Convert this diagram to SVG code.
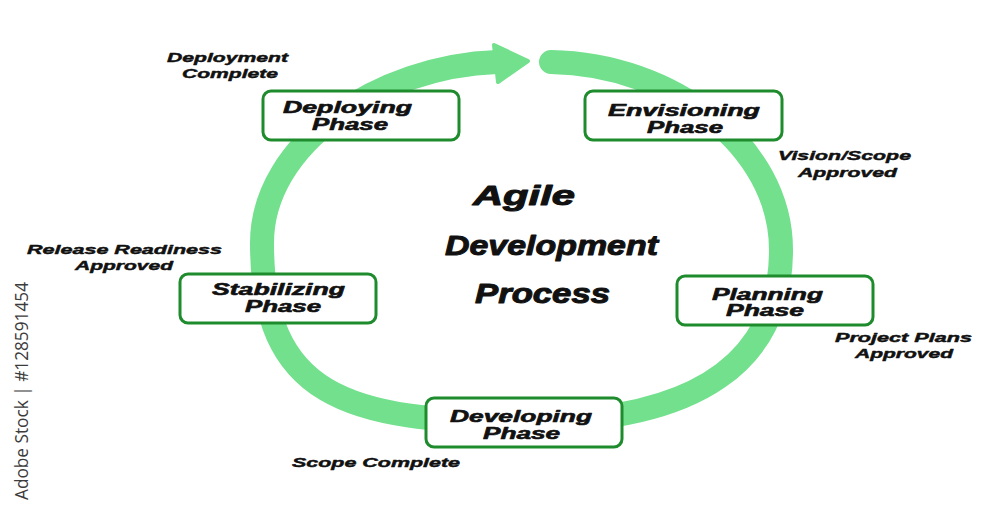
<svg xmlns="http://www.w3.org/2000/svg" width="1000" height="516" viewBox="0 0 1000 516">
  <style>
    .ring { fill: none; stroke: #72E08C; stroke-width: 24; stroke-linecap: round; }
    .head { fill: #72E08C; stroke: #72E08C; stroke-width: 4; stroke-linejoin: round; }
    .box { fill: #ffffff; stroke: #1E8B2D; stroke-width: 3; }
    .t { font-family: "Liberation Sans", Arial, sans-serif; font-weight: bold; font-style: italic; fill: #111111; stroke: #111111; stroke-width: 0.6; stroke-linejoin: round; }
    .node { font-size: 16px; }
    .lbl { font-size: 13px; stroke-width: 0.45; }
    .title { font-size: 28px; stroke-width: 1; }
    .wm { font-family: "Open Sans", "Noto Sans", sans-serif; font-size: 18px; fill: #3c3c3c; }
  </style>
  <rect x="0" y="0" width="1000" height="516" fill="#ffffff"/>

  <g id="connectors">
    <path class="ring" d="M 551 62 C 672 64, 781 146, 781 250 C 781 360, 700 422, 525 422 C 345 422, 262 395, 262 243 C 262 143, 380 66, 497 62"/>
    <polygon class="head" points="494,45 528,61 498,82"/>
  </g>

  <g id="title">
    <text class="t title" x="473" y="205" textLength="102" lengthAdjust="spacingAndGlyphs">Agile</text>
    <text class="t title" x="445" y="255" textLength="213" lengthAdjust="spacingAndGlyphs">Development</text>
    <text class="t title" x="475" y="303" textLength="135" lengthAdjust="spacingAndGlyphs">Process</text>
  </g>

  <g id="node-deploying">
    <rect class="box" x="263" y="91" width="196" height="49" rx="8"/>
    <text class="t node" x="283" y="113" textLength="129" lengthAdjust="spacingAndGlyphs">Deploying</text>
    <text class="t node" x="312" y="130" textLength="76" lengthAdjust="spacingAndGlyphs">Phase</text>
  </g>

  <g id="node-envisioning">
    <rect class="box" x="585" y="91" width="197" height="49" rx="8"/>
    <text class="t node" x="608" y="116" textLength="152" lengthAdjust="spacingAndGlyphs">Envisioning</text>
    <text class="t node" x="647" y="132.5" textLength="76" lengthAdjust="spacingAndGlyphs">Phase</text>
  </g>

  <g id="node-stabilizing">
    <rect class="box" x="180" y="274" width="196" height="49" rx="8"/>
    <text class="t node" x="212" y="295" textLength="133" lengthAdjust="spacingAndGlyphs">Stabilizing</text>
    <text class="t node" x="245" y="311.5" textLength="76" lengthAdjust="spacingAndGlyphs">Phase</text>
  </g>

  <g id="node-planning">
    <rect class="box" x="677" y="276" width="196" height="49" rx="8"/>
    <text class="t node" x="712" y="299.5" textLength="111" lengthAdjust="spacingAndGlyphs">Planning</text>
    <text class="t node" x="726" y="316" textLength="78" lengthAdjust="spacingAndGlyphs">Phase</text>
  </g>

  <g id="node-developing">
    <rect class="box" x="426" y="398" width="196" height="49" rx="8"/>
    <text class="t node" x="450" y="422" textLength="142" lengthAdjust="spacingAndGlyphs">Developing</text>
    <text class="t node" x="483" y="438.5" textLength="77" lengthAdjust="spacingAndGlyphs">Phase</text>
  </g>

  <g id="labels">
    <text class="t lbl" x="167" y="62" textLength="121" lengthAdjust="spacingAndGlyphs">Deployment</text>
    <text class="t lbl" x="182" y="78" textLength="96" lengthAdjust="spacingAndGlyphs">Complete</text>
    <text class="t lbl" x="778" y="160" textLength="133" lengthAdjust="spacingAndGlyphs">Vision/Scope</text>
    <text class="t lbl" x="798" y="177" textLength="99" lengthAdjust="spacingAndGlyphs">Approved</text>
    <text class="t lbl" x="27" y="254" textLength="195" lengthAdjust="spacingAndGlyphs">Release Readiness</text>
    <text class="t lbl" x="75" y="270" textLength="98" lengthAdjust="spacingAndGlyphs">Approved</text>
    <text class="t lbl" x="835" y="342" textLength="137" lengthAdjust="spacingAndGlyphs">Project Plans</text>
    <text class="t lbl" x="855" y="358" textLength="98" lengthAdjust="spacingAndGlyphs">Approved</text>
    <text class="t lbl" x="292" y="467" textLength="168" lengthAdjust="spacingAndGlyphs">Scope Complete</text>
  </g>

  <g id="watermark">
    <text class="wm" transform="translate(28,500) rotate(-90)" x="0" y="0" textLength="218" lengthAdjust="spacingAndGlyphs">Adobe Stock | #128591454</text>
  </g>
</svg>
